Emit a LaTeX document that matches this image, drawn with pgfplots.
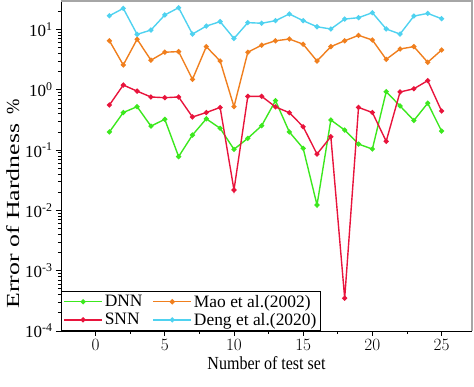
\documentclass[border=0pt]{standalone}
\usepackage{pgfplots}
\pgfplotsset{compat=1.18}
\usepackage{graphicx}
\usepackage{fontspec}
\setmainfont{Liberation Serif}
\definecolor{cdnn}{HTML}{3CE81E}
\definecolor{csnn}{HTML}{E8143C}
\definecolor{cmao}{HTML}{F07F1E}
\definecolor{cdeng}{HTML}{4FD2F0}
\begin{document}
\begin{tikzpicture}[x=1bp,y=1bp]
\begin{axis}[
  at={(0,0)}, anchor=south west,
  scale only axis, width=411bp, height=330bp,
  ymode=log, log basis y=10,
  xmin=-2.5, xmax=27.2, ymin=1e-4, ymax=29.7,
  xtick={0,5,10,15,20,25}, minor x tick num=1,
  ytick={1e-4,1e-3,1e-2,1e-1,1,10},
  minor ytick={2e-4,3e-4,4e-4,5e-4,6e-4,7e-4,8e-4,9e-4,
               2e-3,3e-3,4e-3,5e-3,6e-3,7e-3,8e-3,9e-3,
               2e-2,3e-2,4e-2,5e-2,6e-2,7e-2,8e-2,9e-2,
               2e-1,3e-1,4e-1,5e-1,6e-1,7e-1,8e-1,9e-1,
               2,3,4,5,6,7,8,9,20},
  axis x line*=bottom, axis y line*=left,
  axis line style={line width=1pt, -},
  tick align=outside,
  major tick length=5bp, minor tick length=3bp,
  every tick/.style={black, line width=0.8pt},
  yticklabel={10\textsuperscript{\pgfmathparse{int(round(\tick))}\pgfmathresult}},
  ticklabel style={font=\fontsize{17}{20}\selectfont},
  xlabel={\scalebox{0.87}[1]{Number of test set}},
  ylabel={\scalebox{1.40}[1]{Error of Hardness}\ \ \%},
  label style={font=\fontsize{18.5}{22}\selectfont},
  xlabel style={yshift=1bp},
  ylabel style={at={(ticklabel cs:0.385)}, yshift=-1bp},
  legend columns=2,
  legend style={at={(0,0)}, anchor=south west, draw=black, line width=0.8pt, fill=white,
    font=\fontsize{17.5}{19}\selectfont, inner sep=2bp, row sep=0.5bp,
    /tikz/every even column/.append style={column sep=8bp}},
  legend cell align=left,
  legend image code/.code={\draw[#1, line width=1.4pt] (0bp,0bp) -- (38bp,0bp); \fill[#1] (19bp,0bp) circle (1.8bp);},
  every axis plot/.append style={line width=1.4pt, mark=*, mark size=1.8bp},
  clip=false,
]
\addplot[color=cdnn] coordinates {
(1,0.20)(2,0.42)(3,0.525)(4,0.25)(5,0.324)(6,0.078)(7,0.178)(8,0.33)(9,0.23)(10,0.103)
(11,0.157)(12,0.254)(13,0.66)(14,0.20)(15,0.107)(16,0.0123)(17,0.316)(18,0.215)(19,0.126)(20,0.104)
(21,0.93)(22,0.54)(23,0.31)(24,0.60)(25,0.207)};
\addlegendentry{DNN}
\addplot[color=cmao] coordinates {
(1,6.5)(2,2.58)(3,6.9)(4,3.1)(5,4.2)(6,4.3)(7,1.49)(8,5.2)(9,3.0)(10,0.525)
(11,4.2)(12,5.5)(13,6.5)(14,6.95)(15,5.7)(16,3.0)(17,5.2)(18,6.5)(19,8.0)(20,6.7)
(21,3.2)(22,4.75)(23,5.2)(24,2.86)(25,4.57)};
\addlegendentry{Mao et al.(2002)}
\addplot[color=csnn] coordinates {
(1,0.56)(2,1.2)(3,0.95)(4,0.76)(5,0.74)(6,0.76)(7,0.354)(8,0.42)(9,0.51)(10,0.0218)
(11,0.78)(12,0.78)(13,0.52)(14,0.417)(15,0.244)(16,0.086)(17,0.167)(18,0.00035)(19,0.51)(20,0.42)
(21,0.14)(22,0.92)(23,1.04)(24,1.42)(25,0.445)};
\addlegendentry{SNN}
\addplot[color=cdeng] coordinates {
(1,16.9)(2,22.4)(3,8.3)(4,9.8)(5,17.4)(6,23)(7,8.4)(8,11.4)(9,13.5)(10,7.1)
(11,13)(12,12.7)(13,14)(14,18.1)(15,14)(16,11.1)(17,10.2)(18,14.9)(19,15.7)(20,19)
(21,10.2)(22,8.4)(23,16.7)(24,18.5)(25,15.1)};
\addlegendentry{Deng et al.(2020)}
\draw[black!35, line width=2pt] (rel axis cs:0,1) -- (rel axis cs:1,1) -- (rel axis cs:1,0);
\end{axis}
\pgfresetboundingbox
\useasboundingbox (-61bp,-56bp) rectangle (413bp,331bp);
\end{tikzpicture}
\end{document}
